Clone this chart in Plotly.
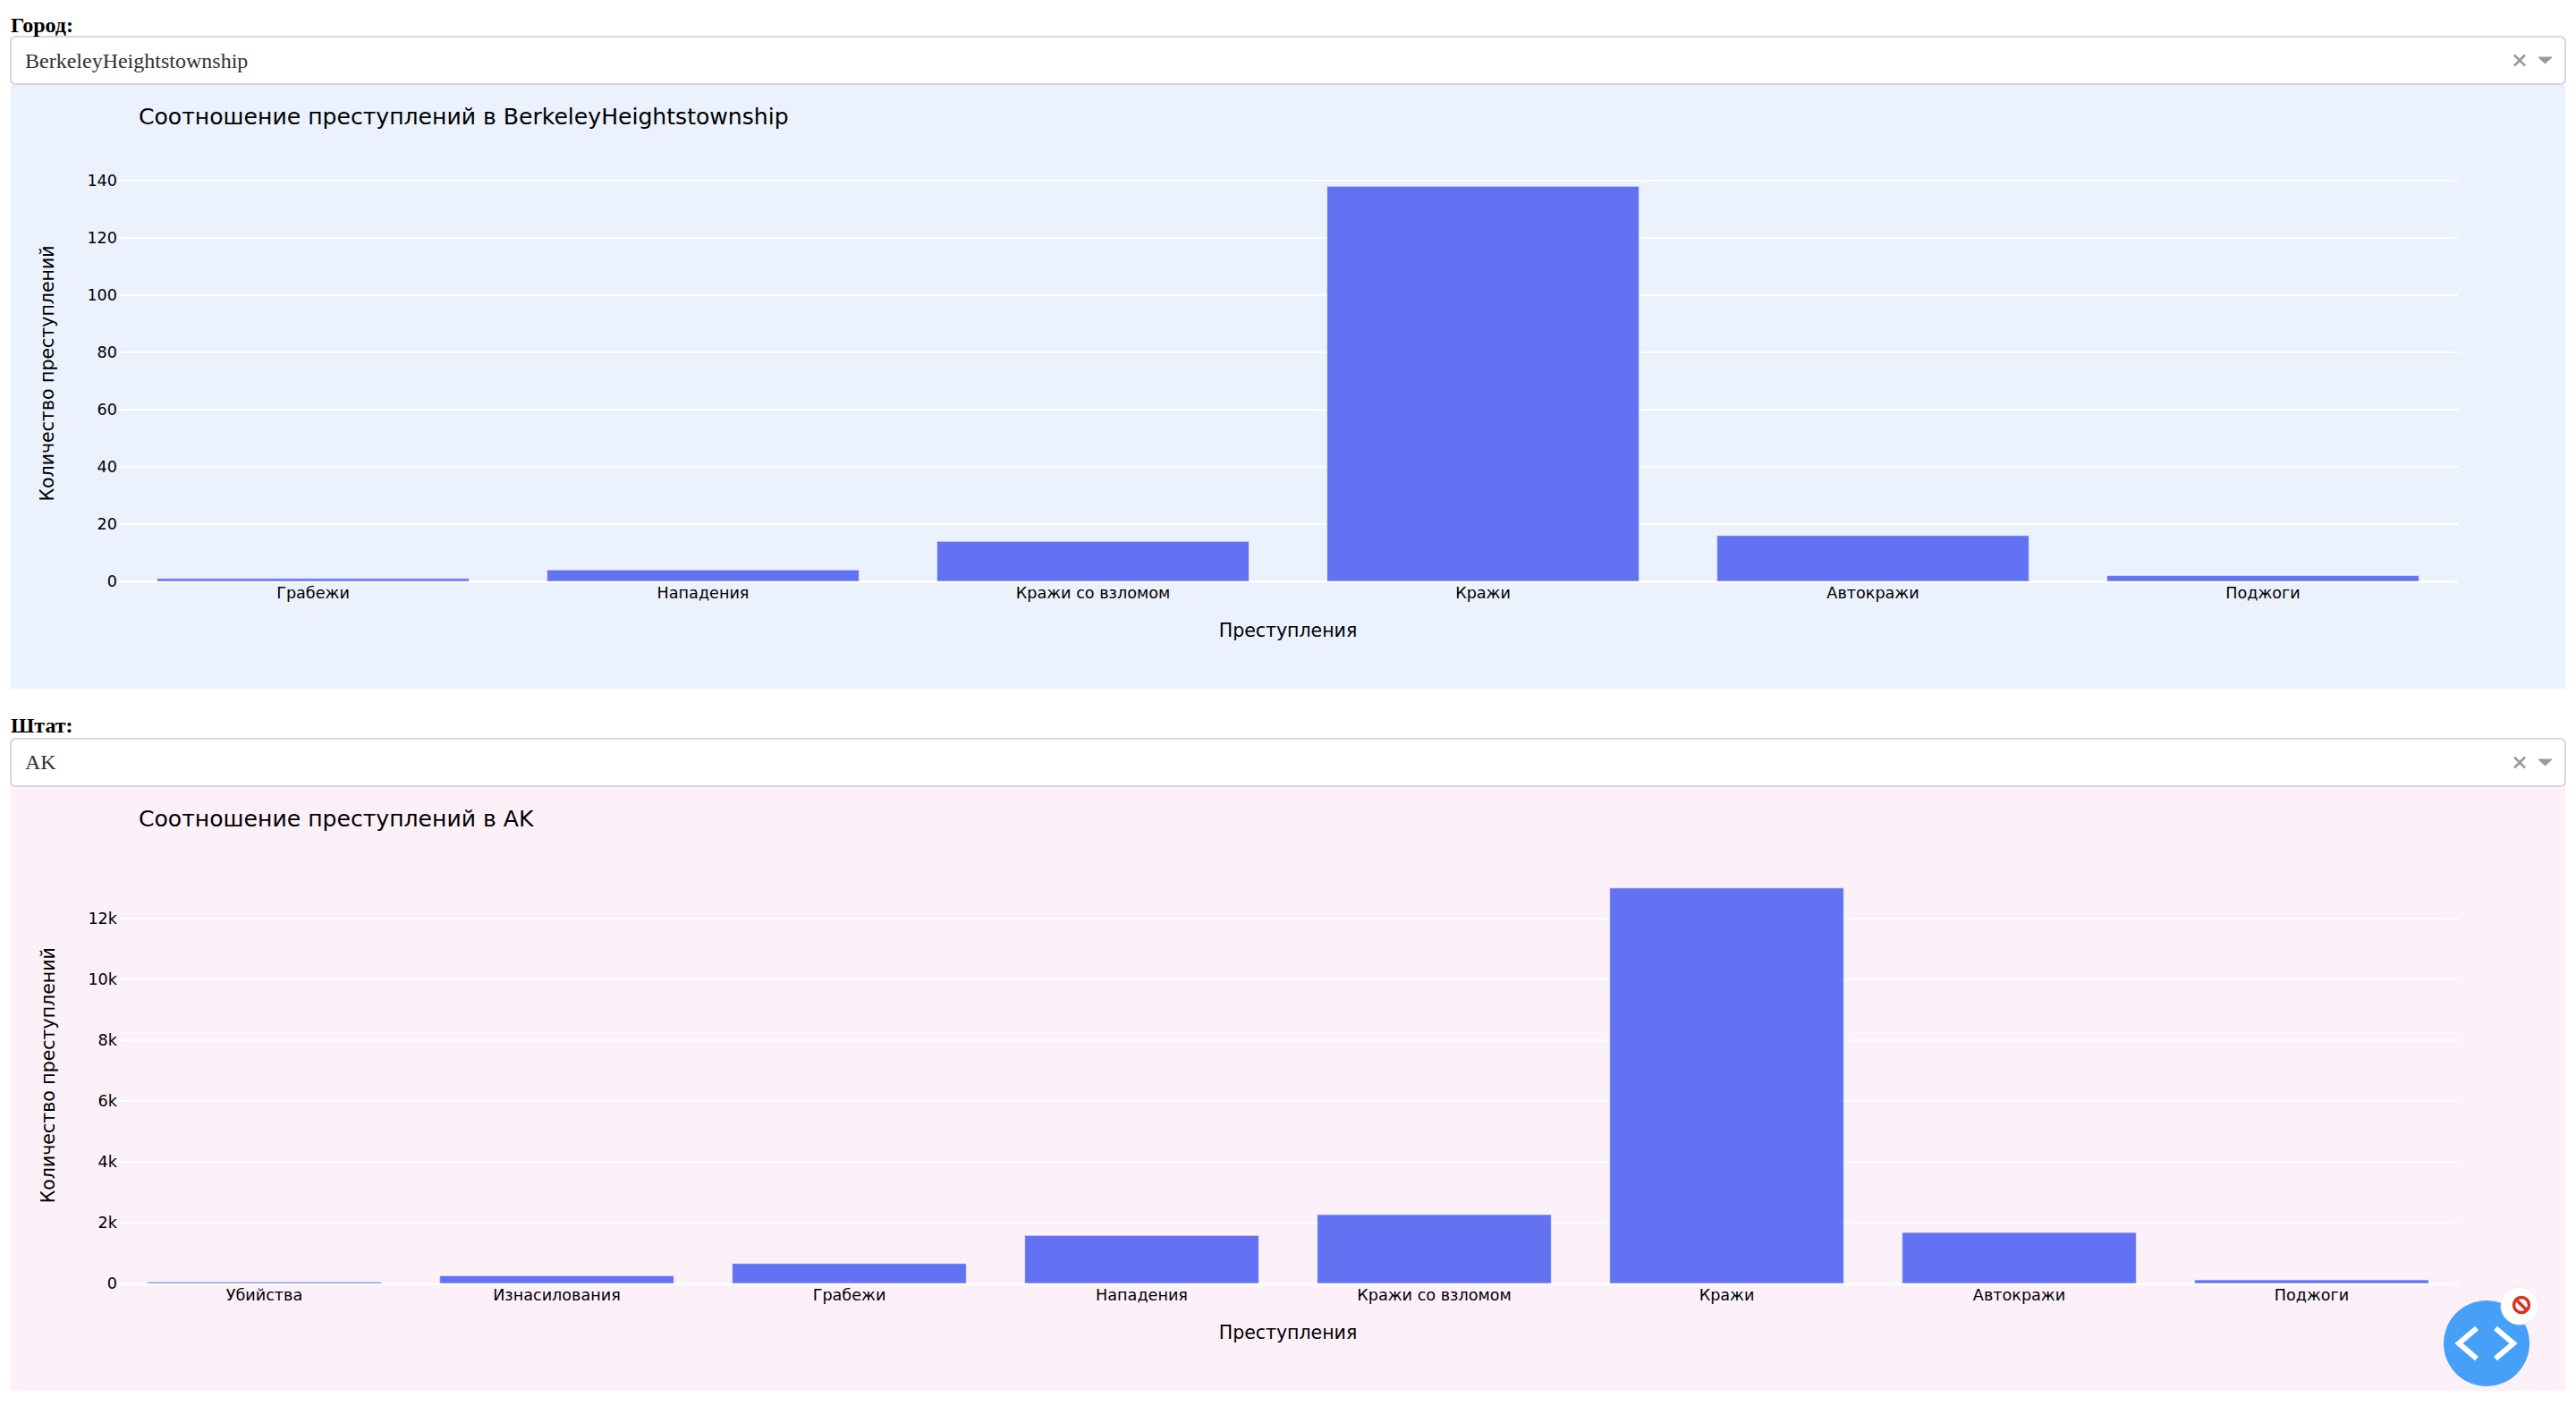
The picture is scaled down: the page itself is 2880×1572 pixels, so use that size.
import plotly.graph_objects as go

city_name = "BerkeleyHeightstownship"
state_name = "AK"
city_categories = ["Грабежи", "Нападения", "Кражи со взломом", "Кражи", "Автокражи", "Поджоги"]
city_values = [1, 4, 14, 138, 16, 2]
state_categories = ["Убийства", "Изнасилования", "Грабежи", "Нападения", "Кражи со взломом", "Кражи", "Автокражи", "Поджоги"]
state_values = [50, 255, 656, 1580, 2265, 13000, 1675, 118]
x_title = "Преступления"
y_title = "Количество преступлений"

W, H = 2880, 1572
def px(x): return x / W
def py(y): return 1 - y / H

SANS = "DejaVu Sans, Verdana, sans-serif"
SERIF = "Liberation Serif, Times New Roman, serif"
BAR = "#6372f2"

shapes, annotations = [], []

def rect(x0, y0, x1, y1, fill, layer="below"):
    shapes.append(dict(type="rect", xref="paper", yref="paper", x0=px(x0), x1=px(x1), y0=py(y0), y1=py(y1),
                       fillcolor=fill, line_width=0, layer=layer))

def round_box(x0, y0, x1, y1, r):
    p = (f"M {px(x0+r)} {py(y0)} L {px(x1-r)} {py(y0)} Q {px(x1)} {py(y0)} {px(x1)} {py(y0+r)} "
         f"L {px(x1)} {py(y1-r)} Q {px(x1)} {py(y1)} {px(x1-r)} {py(y1)} "
         f"L {px(x0+r)} {py(y1)} Q {px(x0)} {py(y1)} {px(x0)} {py(y1-r)} "
         f"L {px(x0)} {py(y0+r)} Q {px(x0)} {py(y0)} {px(x0+r)} {py(y0)} Z")
    shapes.append(dict(type="path", xref="paper", yref="paper", path=p, fillcolor="#ffffff",
                       line=dict(color="#cccccc", width=1.5), layer="below"))

def poly(points, color, width, fill=None, close=False):
    p = "M " + " L ".join(f"{px(x)} {py(y)}" for x, y in points) + (" Z" if close else "")
    shapes.append(dict(type="path", xref="paper", yref="paper", path=p,
                       fillcolor=fill if fill else "rgba(0,0,0,0)",
                       line=dict(color=color, width=width), layer="above"))

def circle(cx, cy, r, fill, line=None, width=0):
    shapes.append(dict(type="circle", xref="paper", yref="paper", x0=px(cx-r), x1=px(cx+r), y0=py(cy+r), y1=py(cy-r),
                       fillcolor=fill, line=dict(color=line or fill, width=width), layer="above"))

def text(x, y, s, size, color, family, bold=False):
    annotations.append(dict(xref="paper", yref="paper", x=px(x), y=py(y), text=f"<b>{s}</b>" if bold else s,
                            showarrow=False, xanchor="left", yanchor="middle", xshift=-2,
                            font=dict(size=size, color=color, family=family)))

def panel(label_text, label_y, value, box_top, box_bottom, panel_bottom, bg):
    text(12, label_y, label_text, 24, "#000000", SERIF, bold=True)
    rect(12, box_bottom, 2868, panel_bottom, bg)
    round_box(12, box_top, 2868, box_bottom, 6)
    mid = (box_top + box_bottom) / 2
    text(28, mid, value, 24, "#333333", SERIF)
    # clear cross and caret of the select box
    poly([(2811, mid - 6), (2823, mid + 6)], "#999999", 2.5)
    poly([(2823, mid - 6), (2811, mid + 6)], "#999999", 2.5)
    poly([(2838, mid - 3.5), (2853, mid - 3.5), (2845.5, mid + 3.5)], "#999999", 1, fill="#999999", close=True)
    text(155, box_bottom + 36.5, f"Соотношение преступлений в {value}", 25.1, "#000000", SANS)

panel("Город:", 27.5, city_name, 41, 94, 770, "#ebf2fe")
panel("Штат:", 811.5, state_name, 826, 879, 1555, "#fcf1f9")

# floating button at the bottom right
circle(2780, 1502, 48, "#47a0f7")
poly([(2769, 1485), (2749, 1502), (2769, 1519)], "#ffffff", 6)
poly([(2790, 1485), (2810, 1502), (2790, 1519)], "#ffffff", 6)
circle(2817, 1460, 21, "#ffffff", "#eeeeee", 1)
circle(2819, 1459, 8.5, "#ffffff", "#d8341c", 3.5)
poly([(2813, 1453), (2825, 1465)], "#d8341c", 3.5)

PLOT_L, PLOT_R = 132, 2748
axis_common = dict(tickfont=dict(size=17.6, color="#000000", family=SANS), ticks="", ticklen=0,
                   title_font=dict(size=20.5, color="#000000", family=SANS))

fig = go.Figure()
fig.add_trace(go.Bar(x=city_categories, y=city_values, xaxis="x", yaxis="y", marker=dict(color=BAR, line=dict(color="#E5ECF6", width=0.75)), width=0.8, showlegend=False))
fig.add_trace(go.Bar(x=state_categories, y=state_values, xaxis="x2", yaxis="y2", marker=dict(color=BAR, line=dict(color="#E5ECF6", width=0.75)), width=0.8, showlegend=False))

def xaxis(anchor):
    return dict(domain=[px(PLOT_L), px(PLOT_R)], anchor=anchor, type="category", showgrid=False,
                zeroline=False, showline=False, automargin=False,
                title=dict(text=x_title, standoff=25.5), **axis_common)

def yaxis(anchor, top, bottom):
    return dict(domain=[py(bottom), py(top)], anchor=anchor, showgrid=True, gridcolor="#ffffff", gridwidth=1.5,
                zeroline=True, zerolinecolor="#ffffff", zerolinewidth=3, showline=False, automargin=False,
                title=dict(text=y_title, standoff=31), **axis_common)

fig.update_layout(
    width=W, height=H, margin=dict(l=0, r=0, t=0, b=0, pad=0),
    paper_bgcolor="#ffffff", plot_bgcolor="rgba(0,0,0,0)",
    font=dict(family=SANS), bargap=0.2, showlegend=False,
    shapes=shapes, annotations=annotations,
    xaxis=xaxis("y"), yaxis=yaxis("x", 185, 650),
    xaxis2=xaxis("y2"), yaxis2=yaxis("x2", 969.5, 1435),
)

fig.write_html("out.html", config=dict(displayModeBar=False),
               post_script="document.body.style.margin='0';document.body.style.overflow='hidden';")
